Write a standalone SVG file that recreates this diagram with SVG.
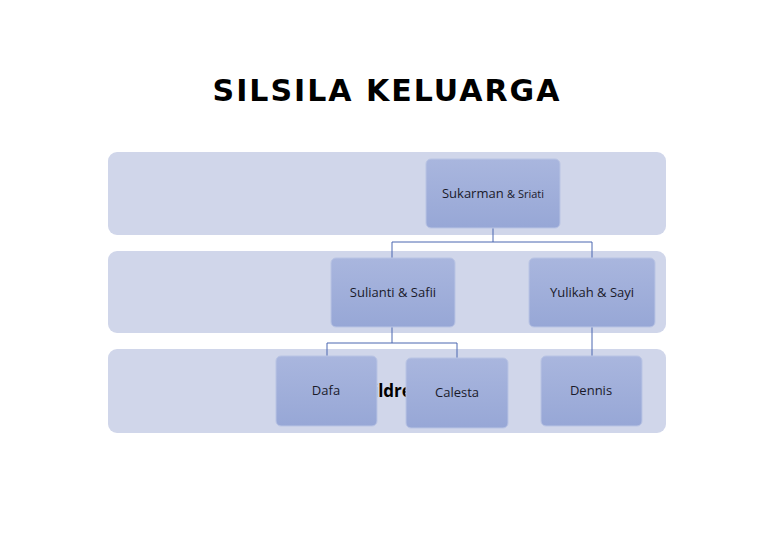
<svg xmlns="http://www.w3.org/2000/svg" width="768" height="543" viewBox="0 0 768 543">
<defs>
<linearGradient id="g" x1="0" y1="0" x2="0" y2="1"><stop offset="0" stop-color="#a9b6de"/><stop offset="1" stop-color="#97a7d6"/></linearGradient>
<style>
.band{fill:#d0d6ea}
.box{fill:url(#g);stroke:#b9c4e4;stroke-width:1}
.t{font-family:"Open Sans","DejaVu Sans",sans-serif;font-size:13px;fill:#1a1a2a;text-anchor:middle}
.c{stroke:#4a66b0;stroke-width:1;fill:none}
</style>
</defs>
<rect width="768" height="543" fill="#fff"/>
<text x="387" y="101" font-family="'DejaVu Sans',sans-serif" font-weight="bold" font-size="30" letter-spacing="2" text-anchor="middle" fill="#000">SILSILA KELUARGA</text>
<g id="bands">
<rect class="band" x="108" y="152" width="558" height="83" rx="9"/>
<rect class="band" x="108" y="251" width="558" height="82" rx="9"/>
<rect class="band" x="108" y="349" width="558" height="84" rx="9"/>
<text x="387" y="397" font-family="'Open Sans',sans-serif" font-weight="bold" font-size="17" text-anchor="middle" fill="#000">Children</text>
</g>
<g id="connectors">
<path class="c" d="M493 228V242M392 242H592M392 242V258M592 242V258"/>
<path class="c" d="M392 327V343M327 343H457M327 343V356M457 343V358"/>
<path class="c" d="M592 327V356"/>
</g>
<g id="n1"><rect class="box" x="426" y="159" width="134" height="69" rx="5"/><text class="t" x="493" y="198">Sukarman <tspan font-size="11">&amp; Sriati</tspan></text></g>
<g id="n2"><rect class="box" x="331" y="258" width="124" height="69" rx="5"/><text class="t" x="393" y="297">Sulianti &amp; Safii</text></g>
<g id="n3"><rect class="box" x="529" y="258" width="126" height="69" rx="5"/><text class="t" x="592" y="297">Yulikah &amp; Sayi</text></g>
<g id="n4"><rect class="box" x="276" y="356" width="101" height="70" rx="5"/><text class="t" x="326" y="395">Dafa</text></g>
<g id="n5"><rect class="box" x="406" y="358" width="102" height="70" rx="5"/><text class="t" x="457" y="397">Calesta</text></g>
<g id="n6"><rect class="box" x="541" y="356" width="101" height="70" rx="5"/><text class="t" x="591" y="395">Dennis</text></g>
</svg>
